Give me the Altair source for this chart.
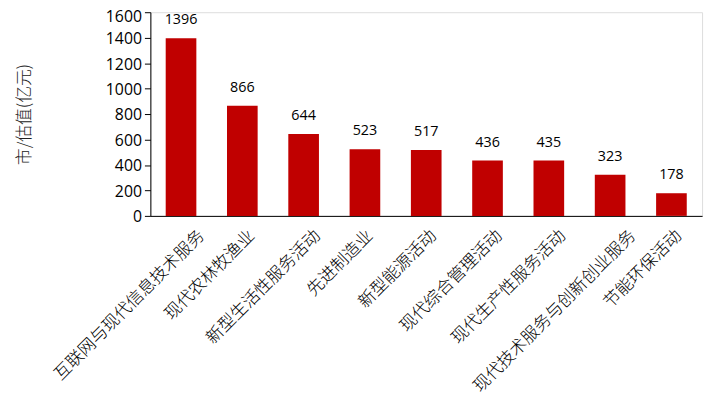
import altair as alt
import pandas as pd

categories = ["互联网与现代信息技术服务", "现代农林牧渔业", "新型生活性服务活动", "先进制造业",
              "新型能源活动", "现代综合管理活动", "现代生产性服务活动", "现代技术服务与创新创业服务", "节能环保活动"]
values = [1396, 866, 644, 523, 517, 436, 435, 323, 178]

df = pd.DataFrame({"cat": categories, "val": values})

FONT = "Noto Sans CJK SC"

# per-label shift along the axis (longer labels sit further right, as in the reference)
offset_conditions = [
    {"test": f"datum.value === '{c}'", "value": round(2.2 * len(c) - 5.5, 1)} for c in categories
]

base = alt.Chart(df).encode(
    x=alt.X("cat:N", sort=categories,
            scale=alt.Scale(paddingInner=0.5, paddingOuter=0.25),
            axis=alt.Axis(title=None, labelAngle=-45, labelAlign="right", labelBaseline="middle",
                          ticks=False, labelPadding=17, labelFontSize=17.2, labelFont=FONT,
                          labelFontWeight=300,
                          labelOffset={"condition": offset_conditions, "value": 0},
                          labelColor="#000", domainColor="#000", labelLimit=400)),
    y=alt.Y("val:Q", scale=alt.Scale(domain=[0, 1600], nice=False),
            axis=alt.Axis(title="市/估值(亿元)", values=list(range(0, 1601, 200)), grid=False,
                          format="d", labelPadding=3,
                          labelOffset={"condition": {"test": "datum.value === 1600", "value": 4},
                                       "value": 1},
                          labelFontSize=16, labelFont="Open Sans", labelColor="#000",
                          domainColor="#000", tickColor="#000", tickSize=6,
                          titleFont=FONT, titleFontSize=17, titleFontWeight=300,
                          titleColor="#222", titleX=-127, titleY=103, titleAlign="center",
                          titleBaseline="middle", titleAngle=-90)),
)

bars = base.mark_bar(color="#C00000")
labels = base.mark_text(baseline="alphabetic", dy=-14, fontSize=14.5, font="Open Sans",
                        color="#000").encode(text="val:Q")

chart = (bars + labels).properties(
    width=558, height=206,
    autosize=alt.AutoSizeParams(type="none"),
    padding={"left": 144, "top": 2, "right": 7, "bottom": 188},
).configure_view(stroke=None).configure(background="white")

chart.save("out.html", embed_options={"renderer": "svg", "actions": False})
